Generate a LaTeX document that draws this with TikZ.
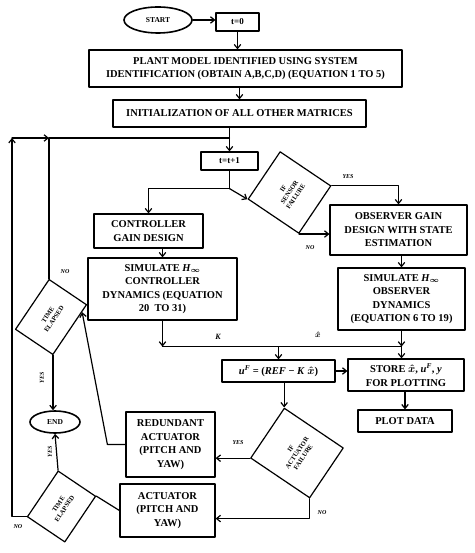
\documentclass[tikz,border=0pt]{standalone}
\usepackage{fontspec}
\setmainfont{Liberation Serif}
\usepackage{amsmath}
\usetikzlibrary{shapes.geometric,arrows.meta,calc}

\begin{document}
\begin{tikzpicture}[x=1pt, y=-1pt, line width=1.2pt, line cap=round, line join=round,
  caja/.style={draw, rectangle, align=center, inner sep=1pt,
    font=\bfseries\fontsize{10.5}{13.5}\selectfont},
  rombo/.style={draw, rectangle, rotate=56, align=center, inner sep=0pt,
    font=\bfseries\fontsize{6.5}{7.5}\selectfont},
  elipse/.style={draw, ellipse, line width=1.6pt, font=\bfseries\fontsize{7.5}{9}\selectfont},
  flecha/.style={-{Straight Barb[length=4pt,width=6.5pt]}},
  etiq/.style={inner sep=0pt, font=\bfseries\itshape\fontsize{6}{7}\selectfont}]
  \useasboundingbox (0,0) rectangle (474,553);
  % arriba
  \node[elipse, minimum width=68pt, minimum height=26pt] (start) at (158,20) {START};
  \node[caja, minimum width=43pt, minimum height=18pt, font=\bfseries\fontsize{9}{10}\selectfont] (t0) at (237.5,22) {t=0};
  \node[caja, minimum width=313pt, minimum height=37pt] (plant) at (245.5,68.5)
    {PLANT MODEL IDENTIFIED USING SYSTEM\\IDENTIFICATION (OBTAIN A,B,C,D) (EQUATION 1 TO 5)};
  \node[caja, minimum width=253pt, minimum height=27pt] (init) at (239.5,113.5) {INITIALIZATION OF ALL OTHER MATRICES};
  \node[caja, minimum width=57pt, minimum height=18pt, font=\bfseries\fontsize{9}{10}\selectfont] (tinc) at (229.5,161) {t=t+1};
  % sensor, controlador, observador
  \node[rombo, minimum width=57pt, minimum height=61pt] (sensor) at (289.5,192.5) {IF\\SENSOR\\FAILURE};
  \node[caja, minimum width=109pt, minimum height=34pt] (ctrlgain) at (148.5,231) {CONTROLLER\\GAIN DESIGN};
  \node[caja, minimum width=149pt, minimum height=62pt] (simctrl) at (162.5,289)
    {SIMULATE \textit{H}$_{\boldsymbol{\infty}}$\\CONTROLLER\\DYNAMICS (EQUATION\\20\ \ TO 31)};
  \node[caja, minimum width=137pt, minimum height=50pt] (obsgain) at (398.5,230) {OBSERVER GAIN\\DESIGN WITH STATE\\ESTIMATION};
  \node[caja, minimum width=127pt, minimum height=62pt] (simobs) at (401.5,299)
    {SIMULATE \textit{H}$_{\boldsymbol{\infty}}$\\OBSERVER\\DYNAMICS\\(EQUATION 6 TO 19)};
  % salida
  \node[caja, minimum width=113pt, minimum height=22pt] (uF) at (278.5,371)
    {\textit{u}\textsuperscript{\textit{F}} = (\textit{REF} − \textit{K} $\boldsymbol{\hat{x}}$)};
  \node[caja, minimum width=116pt, minimum height=32pt] (store) at (406,375)
    {STORE $\boldsymbol{\hat{x}}$, \textit{u}\textsuperscript{\textit{F}}, \textit{y}\\FOR PLOTTING};
  \node[caja, minimum width=94pt, minimum height=22pt] (plot) at (405,421) {PLOT DATA};
  % actuadores
  \node[rombo, minimum width=60pt, minimum height=71pt] (actfail) at (297,453) {IF\\ACTUATOR\\FAILURE};
  \node[caja, minimum width=89pt, minimum height=65pt] (redund) at (170.5,444.5) {REDUNDANT\\ACTUATOR\\(PITCH AND\\YAW)};
  \node[caja, minimum width=95pt, minimum height=53pt] (actuator) at (167.5,510.5) {ACTUATOR\\(PITCH AND\\YAW)};
  % tiempo
  \node[rombo, minimum width=60pt, minimum height=45pt] (timeup) at (51,317) {TIME\\ELAPSED};
  \node[elipse, minimum width=50pt, minimum height=22pt] (end) at (55,422) {END};
  \node[rombo, minimum width=55pt, minimum height=45pt] (timelow) at (61.5,506.5) {TIME\\ELAPSED};

  \coordinate (lcorner) at (12,138);
  \coordinate (mjoin) at (timeup.north east |- lcorner);
  \coordinate (tjoin) at (tinc.north |- lcorner);
  \coordinate (split) at ($(tinc.south)+(0,18)$);
  \coordinate (busl) at ($(simctrl.south)+(0,26)$);
  \coordinate (busr) at (simobs.south |- busl);

  % flechas arriba
  \draw[flecha] (start.east) -- (start.east -| t0.west);
  \draw[flecha] (t0) -- (t0 |- plant.north);
  \draw[flecha] (init.north |- plant.south) -- (init.north);
  \draw[flecha] (tinc.north |- init.south) -- (tinc.north);
  % lazos
  \draw[flecha] (timelow.north west) -- (timelow.north west -| lcorner) -- (lcorner);
  \draw[flecha] (lcorner) -- (mjoin);
  \draw (mjoin) -- (tjoin);
  \draw (timeup.north east) -- (mjoin);
  % sensor
  \draw (tinc.south) -- (split);
  \draw[flecha] (split) -- (sensor.north west);
  \draw[flecha] (split) -| (ctrlgain.north);
  \draw[flecha] (sensor.south east) -| (obsgain.north);
  \draw[flecha] (sensor.south west) -- (sensor.south west -| obsgain.west);
  \draw[flecha] (simctrl.north |- ctrlgain.south) -- (simctrl.north);
  \draw[flecha] (simobs.north |- obsgain.south) -- (simobs.north);
  % bus K, x
  \draw[flecha] (simctrl.south) -- (busl);
  \draw[flecha] (simobs.south) -- (busr);
  \draw (busl) -- (busr);
  \draw[flecha] (uF.north |- busl) -- (uF.north);
  \draw[flecha] (busr) -- (busr |- store.north);
  \draw[flecha] (uF.east) -- (uF.east -| store.west);
  \draw[flecha] (plot.north |- store.south) -- (plot.north);
  % actuadores
  \draw[flecha] (actfail.north east |- uF.south) -- (actfail.north east);
  \draw[flecha] (actfail.north west) -- (actfail.north west -| redund.east);
  \draw[flecha] (actfail.south west) -- ++(0,20) coordinate (nobend) -- (nobend -| actuator.east);
  \draw[flecha] (redund.west) -- ++(-18,0) -- ($(timeup.south east)!0.15!(timeup.south west)$);
  \draw (actuator.west) -- (timelow.south east);
  % fin
  \draw[flecha] (timeup.south west) -- (timeup.south west |- end.north);
  \draw[flecha] (timelow.north east) -- (end.south);

  % etiquetas
  \node[etiq] (noup) at (65,272) {NO};
  \node[etiq, rotate=90] (yesup) at (42,378) {YES};
  \node[etiq, rotate=90] (yeslow) at (50,452) {YES};
  \node[etiq] (nolow) at (18,527) {NO};
  \node[etiq] (yessen) at (348,177) {YES};
  \node[etiq] (nosen) at (310,248) {NO};
  \node[etiq] (yesact) at (238,443) {YES};
  \node[etiq] (noact) at (322,513) {NO};
  \node[etiq, font=\bfseries\itshape\fontsize{8}{9}\selectfont] (klbl) at (218,337) {K};
  \node[etiq, font=\fontsize{8}{9}\selectfont] (xlbl) at (318,335) {$\boldsymbol{\hat{x}}$};
\end{tikzpicture}
\end{document}
